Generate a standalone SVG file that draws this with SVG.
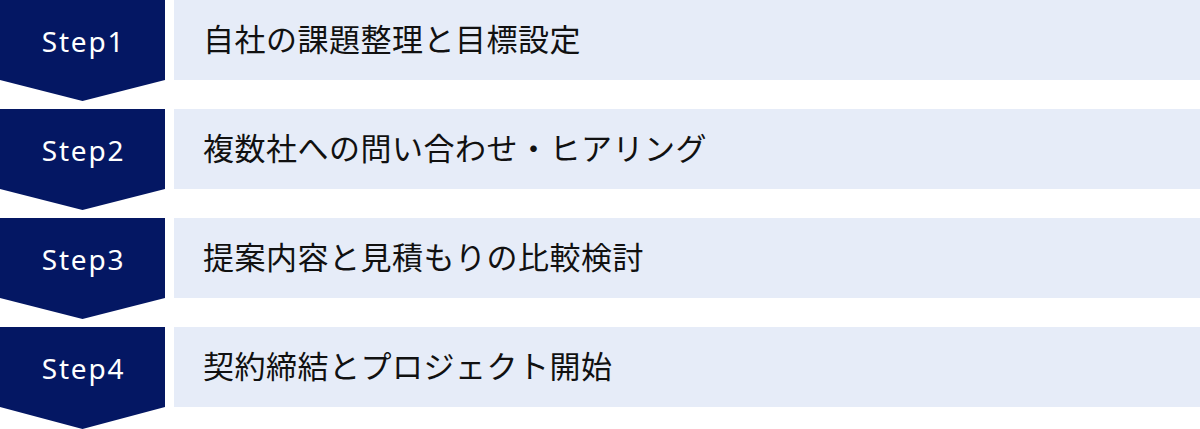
<svg xmlns="http://www.w3.org/2000/svg" width="1200" height="429" viewBox="0 0 1200 429">
<style>
.step{fill:#041763;}
.bar{fill:#e6ecf8;}
.st{font-family:"Noto Sans","Liberation Sans",sans-serif;font-size:28px;fill:#ffffff;text-anchor:middle;letter-spacing:1.8px;}
.lb{font-family:"Noto Sans CJK JP","Noto Sans",sans-serif;font-size:31px;fill:#111111;letter-spacing:0.5px;}
</style>
<rect width="1200" height="429" fill="#ffffff"/>
<g id="connectors"></g>
<g id="step1">
<polygon class="step" points="0,0 165,0 165,80 82.5,101 0,80"/>
<rect class="bar" x="174" y="0" width="1026" height="80"/>
<text class="st" x="83.5" y="52">Step1</text>
<text class="lb" x="203" y="51">自社の課題整理と目標設定</text>
</g>
<g id="step2">
<polygon class="step" points="0,109 165,109 165,189 82.5,210 0,189"/>
<rect class="bar" x="174" y="109" width="1026" height="80"/>
<text class="st" x="83.5" y="161">Step2</text>
<text class="lb" x="203" y="160">複数社への問い合わせ・ヒアリング</text>
</g>
<g id="step3">
<polygon class="step" points="0,218 165,218 165,298 82.5,319 0,298"/>
<rect class="bar" x="174" y="218" width="1026" height="80"/>
<text class="st" x="83.5" y="270">Step3</text>
<text class="lb" x="203" y="269">提案内容と見積もりの比較検討</text>
</g>
<g id="step4">
<polygon class="step" points="0,327 165,327 165,407 82.5,429 0,407"/>
<rect class="bar" x="174" y="327" width="1026" height="80"/>
<text class="st" x="83.5" y="379">Step4</text>
<text class="lb" x="203" y="378">契約締結とプロジェクト開始</text>
</g>
</svg>
